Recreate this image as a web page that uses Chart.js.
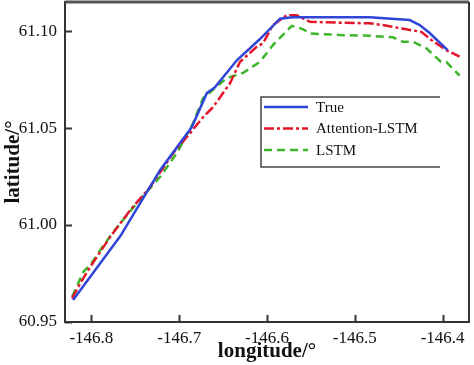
<!DOCTYPE html>
<html>
<head>
<meta charset="utf-8">
<title>Trajectory prediction</title>
<script src="https://cdn.jsdelivr.net/npm/chart.js@4.4.1/dist/chart.umd.min.js"></script>
<style>
    html, body { margin: 0; padding: 0; background: #fff; }
    #trackChart { display: block; }
</style>
</head>
<body>
<canvas id="trackChart" width="474" height="365"></canvas>
<script>
// Values (longitude / latitude, degrees)
const trueLon = [-146.8208, -146.7670, -146.7216, -146.6856, -146.6685, -146.6591, -146.6341,
    -146.6080, -146.5852, -146.5705, -146.4830, -146.4375, -146.4261, -146.4148, -146.3943]
const trueLat = [60.9613, 60.9943, 61.0284, 61.0505, 61.0680, 61.0711, 61.0851,
    61.0959, 61.1064, 61.1071, 61.1071, 61.1057, 61.1031, 61.0990, 61.0902]

const attnLon = [-146.8219, -146.8125, -146.8011, -146.7784, -146.7557, -146.7330, -146.7068,
    -146.6875, -146.6727, -146.6614, -146.6420, -146.6307, -146.6117, -146.6045, -146.5932,
    -146.5776, -146.5662, -146.5511, -146.5322, -146.4830, -146.4682, -146.4413, -146.4242,
    -146.4128, -146.3958, -146.3807]
const attnLat = [60.9622, 60.9701, 60.9785, 60.9940, 61.0077, 61.0197, 61.0371,
    61.0474, 61.0557, 61.0608, 61.0732, 61.0842, 61.0919, 61.0938, 61.1031,
    61.1082, 61.1082, 61.1048, 61.1045, 61.1040, 61.1031, 61.1009, 61.0996,
    61.0954, 61.0902, 61.0868]

const lstmLon = [-146.8219, -146.8091, -146.8011, -146.7898, -146.7750, -146.7481, -146.7216,
    -146.7026, -146.6841, -146.6727, -146.6572, -146.6458, -146.6273, -146.6080, -146.5932,
    -146.5719, -146.5591, -146.5511, -146.5136, -146.4830, -146.4568, -146.4455, -146.4341,
    -146.4185, -146.4020, -146.3955, -146.3807]
const lstmLat = [60.9630, 60.9759, 60.9794, 60.9871, 60.9965, 61.0113, 61.0249,
    61.0371, 61.0526, 61.0655, 61.0713, 61.0758, 61.0784, 61.0842, 61.0928,
    61.1027, 61.1010, 61.0988, 61.0979, 61.0976, 61.0968, 61.0945, 61.0945,
    61.0911, 61.0842, 61.0839, 61.0770]

const seriesNames = ['True', 'Attention-LSTM', 'LSTM']
const xTicks = [-146.8, -146.7, -146.6, -146.5, -146.4]
const yTicks = [60.95, 61.0, 61.05, 61.1]

const serif = "'Liberation Serif', 'Times New Roman', serif"

function zipPoints(lons, lats) {
    return lons.map((lon, i) => ({ x: lon, y: lats[i] }))
}

// Inward tick marks plus the top / right edges of the frame
const frameTicksPlugin = {
    id: 'frameTicks',
    afterDraw(chart) {
        const { ctx, chartArea: a, scales } = chart
        ctx.save()
        ctx.strokeStyle = '#333'
        ctx.lineWidth = 2
        ctx.beginPath()
        xTicks.forEach((v) => {
            const px = Math.round(scales.x.getPixelForValue(v)) + 0.5
            ctx.moveTo(px, a.bottom)
            ctx.lineTo(px, a.bottom - 7)
        })
        yTicks.forEach((v) => {
            const py = Math.round(scales.y.getPixelForValue(v)) + 0.5
            ctx.moveTo(a.left, py)
            ctx.lineTo(a.left + 7, py)
        })
        ctx.stroke()

        ctx.strokeStyle = '#555'
        ctx.lineWidth = 3
        ctx.beginPath()
        ctx.moveTo(a.left, a.top)
        ctx.lineTo(a.right, a.top)
        ctx.stroke()
        ctx.strokeStyle = '#333'
        ctx.lineWidth = 2
        ctx.beginPath()
        ctx.moveTo(a.right, a.top)
        ctx.lineTo(a.right, a.bottom)
        ctx.stroke()
        ctx.restore()
    },
}

// Boxed legend inside the plot, like the original figure
const boxLegendPlugin = {
    id: 'boxLegend',
    afterDraw(chart) {
        const ctx = chart.ctx
        const left = 261, top = 97, right = 440, bottom = 167
        ctx.save()
        ctx.fillStyle = '#fff'
        ctx.fillRect(left, top, right - left, bottom - top)
        ctx.strokeStyle = '#444'
        ctx.lineWidth = 1.5
        ctx.beginPath()
        ctx.moveTo(right, top)
        ctx.lineTo(left, top)
        ctx.lineTo(left, bottom)
        ctx.lineTo(right, bottom)
        ctx.stroke()

        chart.data.datasets.forEach((ds, i) => {
            const y = 107 + i * 21.5
            ctx.strokeStyle = ds.borderColor
            ctx.lineWidth = ds.borderWidth
            ctx.setLineDash(ds.borderDash || [])
            ctx.beginPath()
            ctx.moveTo(264, y)
            ctx.lineTo(308, y)
            ctx.stroke()
            ctx.setLineDash([])
            ctx.fillStyle = '#111'
            ctx.font = '15px ' + serif
            ctx.textBaseline = 'middle'
            ctx.fillText(ds.label, 316, y + 1)
        })
        ctx.restore()
    },
}

const ctx = document.getElementById('trackChart').getContext('2d')

const chart = new Chart(ctx, {
    type: 'line',
    data: {
        datasets: [
            {
                label: seriesNames[0],
                data: zipPoints(trueLon, trueLat),
                borderColor: '#2f45d8',
                borderWidth: 2.5,
            },
            {
                label: seriesNames[1],
                data: zipPoints(attnLon, attnLat),
                borderColor: '#e3152b',
                borderWidth: 2.5,
                borderDash: [10, 3, 3, 3],
            },
            {
                label: seriesNames[2],
                data: zipPoints(lstmLon, lstmLat),
                borderColor: '#3db52a',
                borderWidth: 2.5,
                borderDash: [8, 5],
            },
        ],
    },
    options: {
        responsive: false,
        animation: false,
        parsing: false,
        layout: {
            padding: { top: 2, right: 5, left: 0, bottom: 0 },
        },
        elements: {
            point: { radius: 0 },
            line: { tension: 0, fill: false },
        },
        plugins: {
            legend: { display: false },
            tooltip: { enabled: false },
        },
        scales: {
            x: {
                type: 'linear',
                min: -146.83,
                max: -146.37,
                afterFit(scale) {
                    scale.height = 43
                    scale.paddingLeft = 0
                    scale.paddingRight = 0
                },
                afterBuildTicks(scale) {
                    scale.ticks = xTicks.map((v) => ({ value: v }))
                },
                grid: { display: false, drawTicks: false },
                border: { display: true, color: '#333', width: 2 },
                ticks: {
                    color: '#111',
                    padding: 6,
                    maxRotation: 0,
                    autoSkip: false,
                    font: { family: serif, size: 17 },
                    callback: (v) => '-' + Math.abs(v).toFixed(1),
                },
                title: {
                    display: true,
                    text: 'longitude/°',
                    color: '#111',
                    padding: { top: 0, bottom: 1 },
                    font: { family: serif, size: 21, weight: 'bold' },
                },
            },
            y: {
                type: 'linear',
                min: 60.95,
                max: 61.115,
                afterFit(scale) {
                    scale.width = 65
                    scale.paddingTop = 0
                    scale.paddingBottom = 0
                },
                afterBuildTicks(scale) {
                    scale.ticks = yTicks.map((v) => ({ value: v }))
                },
                grid: { display: false, drawTicks: false },
                border: { display: true, color: '#333', width: 2 },
                ticks: {
                    color: '#111',
                    padding: 8,
                    font: { family: serif, size: 17 },
                    callback: (v) => v.toFixed(2),
                },
                title: {
                    display: true,
                    text: 'latitude/°',
                    color: '#111',
                    padding: { top: 1, bottom: 0 },
                    font: { family: serif, size: 21, weight: 'bold' },
                },
            },
        },
    },
    plugins: [frameTicksPlugin, boxLegendPlugin],
})
</script>
</body>
</html>
